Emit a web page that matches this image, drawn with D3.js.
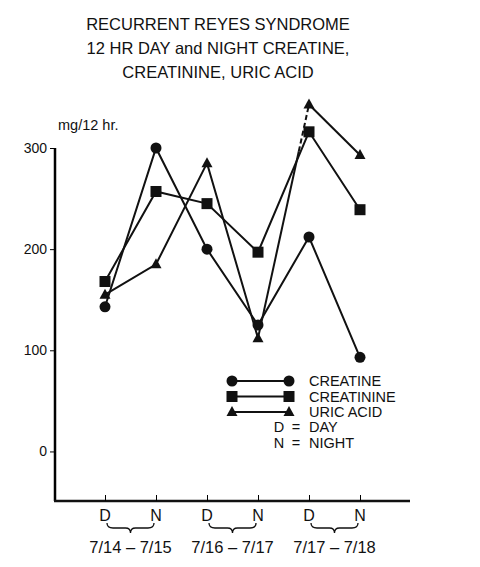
<!DOCTYPE html>
<html><head><meta charset="utf-8">
<script src="https://cdn.jsdelivr.net/npm/d3@7"></script>
<style>body{margin:0;background:#fff}text{font-family:"Liberation Sans",Arial,sans-serif;fill:#111}</style>
</head><body><svg id="chart" width="480" height="567"></svg>
<script>
const ticksX = ["D", "N", "D", "N", "D", "N"];
const periods = ["7/14 – 7/15", "7/16 – 7/17", "7/17 – 7/18"];
const creatine = [143, 300, 200, 125, 212, 93];
const creatinine = [168, 257, 245, 197, 316, 239];
const uricAcid = [155, 185, 285, 112, 343, 293];
const yTicks = [0, 100, 200, 300];

const svg = d3.select("#chart");
const x = d3.scalePoint().domain(d3.range(6)).range([105, 360]);
const y = d3.scaleLinear().domain([-49, 300]).range([501, 148]);

// titles
const titles = [["RECURRENT REYES SYNDROME", 30], ["12 HR DAY and NIGHT CREATINE,", 54], ["CREATININE, URIC ACID", 78]];
titles.forEach(([t, ty]) => svg.append("text").attr("x", 218).attr("y", ty)
  .attr("text-anchor", "middle").attr("font-size", 16.5).text(t));
svg.append("text").attr("x", 58).attr("y", 130).attr("font-size", 14.5).text("mg/12 hr.");

// axes
const yAxis = svg.append("g").attr("transform", "translate(55,0)")
  .call(d3.axisLeft(y).tickValues(yTicks).tickSize(5).tickSizeOuter(0));
yAxis.select(".domain").attr("stroke-width", 2.5).attr("d", `M0,${y(300)}V${y(-49)}`);
yAxis.selectAll("text").attr("font-size", 14).attr("font-family", "Liberation Sans").attr("fill", "#111");
svg.append("line").attr("x1", 54).attr("x2", 410).attr("y1", 501).attr("y2", 501)
  .attr("stroke", "#111").attr("stroke-width", 2.5);
const xAxis = svg.append("g").attr("transform", "translate(0,501)")
  .call(d3.axisTop(x).tickSize(6).tickFormat(""));
xAxis.select(".domain").remove();
ticksX.forEach((t, i) => svg.append("text").attr("x", x(i)).attr("y", 521)
  .attr("text-anchor", "middle").attr("font-size", 16).text(t));

// braces
periods.forEach((p, k) => {
  const a = x(2 * k) + 2, b = x(2 * k + 1) - 2, m = (a + b) / 2, top = 523;
  svg.append("path").attr("fill", "none").attr("stroke", "#111").attr("stroke-width", 1.3)
    .attr("d", `M${a},${top} Q${a},${top + 5} ${a + 6},${top + 5} L${m - 5},${top + 5} Q${m},${top + 5} ${m},${top + 10} Q${m},${top + 5} ${m + 5},${top + 5} L${b - 6},${top + 5} Q${b},${top + 5} ${b},${top}`);
  svg.append("text").attr("x", m).attr("y", 553).attr("text-anchor", "middle").attr("font-size", 16.5).text(p);
});

const line = d3.line().x((d, i) => x(i)).y(d => y(d));
const drawMarker = (g, type, cx, cy) => {
  if (type === "circle") g.append("circle").attr("cx", cx).attr("cy", cy).attr("r", 5.5).attr("fill", "#111");
  else if (type === "square") g.append("rect").attr("x", cx - 5.5).attr("y", cy - 5.5).attr("width", 11).attr("height", 11).attr("fill", "#111");
  else g.append("path").attr("d", `M${cx},${cy - 6}L${cx + 5.5},${cy + 4}L${cx - 5.5},${cy + 4}Z`).attr("fill", "#111");
};

const series = [[creatine, "circle"], [creatinine, "square"], [uricAcid, "triangle"]];
series.forEach(([vals, type]) => {
  if (type === "triangle") {
    // last rise drawn partly dashed near the top
    const p4 = [x(3), y(vals[3])], p5 = [x(4), y(vals[4])], t = 0.8;
    const pm = [p4[0] + (p5[0] - p4[0]) * t, p4[1] + (p5[1] - p4[1]) * t];
    svg.append("path").attr("fill", "none").attr("stroke", "#111").attr("stroke-width", 2)
      .attr("d", line(vals.slice(0, 4)));
    svg.append("path").attr("fill", "none").attr("stroke", "#111").attr("stroke-width", 2)
      .attr("d", `M${p4}L${pm}`);
    svg.append("path").attr("fill", "none").attr("stroke", "#111").attr("stroke-width", 2)
      .attr("stroke-dasharray", "5,3").attr("d", `M${pm}L${p5}`);
    svg.append("path").attr("fill", "none").attr("stroke", "#111").attr("stroke-width", 2)
      .attr("d", `M${p5}L${x(5)},${y(vals[5])}`);
  } else {
    svg.append("path").attr("fill", "none").attr("stroke", "#111").attr("stroke-width", 2).attr("d", line(vals));
  }
  vals.forEach((v, i) => drawMarker(svg, type, x(i), y(v)));
});

// legend
const legendNames = ["CREATINE", "CREATININE", "URIC ACID"];
series.forEach(([, type], i) => {
  const ly = 381 + i * 15.5;
  svg.append("line").attr("x1", 232).attr("x2", 289).attr("y1", ly).attr("y2", ly).attr("stroke", "#111").attr("stroke-width", 2);
  drawMarker(svg, type, 232, ly);
  drawMarker(svg, type, 289, ly);
  svg.append("text").attr("x", 309).attr("y", ly + 5).attr("font-size", 14.5).text(legendNames[i]);
});
[["D", "DAY", 427], ["N", "NIGHT", 443]].forEach(([k, v, ly]) => {
  svg.append("text").attr("x", 279).attr("y", ly + 5).attr("text-anchor", "middle").attr("font-size", 14.5).text(k);
  svg.append("text").attr("x", 296).attr("y", ly + 5).attr("text-anchor", "middle").attr("font-size", 14.5).text("=");
  svg.append("text").attr("x", 309).attr("y", ly + 5).attr("font-size", 14.5).text(v);
});
</script></body></html>
